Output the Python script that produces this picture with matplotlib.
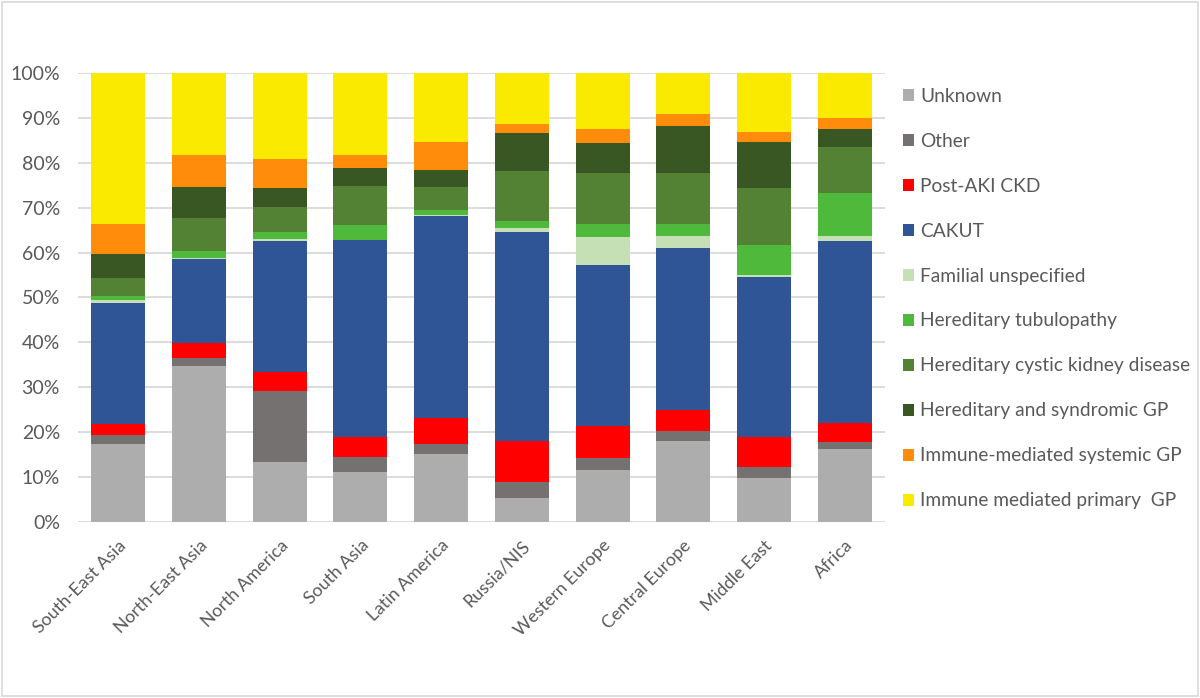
import matplotlib
matplotlib.use('Agg')
import matplotlib.pyplot as plt
import numpy as np
from matplotlib.patches import Rectangle

plt.rcParams['font.family'] = ['Lato', 'DejaVu Sans']

# Данные
regions = ['South-East Asia', 'North-East Asia', 'North America', 'South Asia', 'Latin America',
           'Russia/NIS', 'Western Europe', 'Central Europe', 'Middle East', 'Africa']

unknown = [17.4, 34.7, 13.3, 11.1, 15.1, 5.3, 11.6, 18.0, 9.7, 16.2]
other = [1.9, 1.8, 15.8, 3.4, 2.3, 3.5, 2.7, 2.3, 2.5, 1.7]
post_aki = [2.6, 3.4, 4.2, 4.4, 5.8, 9.2, 7.0, 4.6, 6.7, 4.1]
cakut = [26.9, 18.7, 29.3, 43.8, 45.0, 46.5, 35.9, 36.2, 35.7, 40.5]
familial = [0.6, 0.3, 0.4, 0.1, 0.1, 0.9, 6.3, 2.6, 0.3, 1.2]
tubulopathy = [0.9, 1.5, 1.5, 3.3, 1.1, 1.7, 2.8, 2.7, 6.8, 9.5]
cystic = [4.0, 7.2, 5.6, 8.7, 5.2, 11.1, 11.4, 11.4, 12.6, 10.4]
syndromic = [5.4, 7.1, 4.3, 4.0, 3.9, 8.4, 6.8, 10.4, 10.4, 3.9]
systemic = [6.7, 7.1, 6.4, 2.9, 6.1, 2.0, 3.0, 2.7, 2.2, 2.5]
primary = [33.6, 18.2, 19.2, 18.3, 15.4, 11.4, 12.5, 9.1, 13.1, 10.0]

series = [
    ('Unknown', unknown, '#ADADAD'),
    ('Other', other, '#767171'),
    ('Post-AKI CKD', post_aki, '#FF0000'),
    ('CAKUT', cakut, '#2F5597'),
    ('Familial unspecified', familial, '#C5E0B4'),
    ('Hereditary tubulopathy', tubulopathy, '#4EB93B'),
    ('Hereditary cystic kidney disease', cystic, '#548235'),
    ('Hereditary and syndromic GP', syndromic, '#385723'),
    ('Immune-mediated systemic GP', systemic, '#FF8C0A'),
    ('Immune mediated primary  GP', primary, '#F9EA00'),
]

# Нормировка до 100%
totals = np.sum([np.array(s[1]) for s in series], axis=0)

fig = plt.figure(figsize=(12, 6.98), dpi=100)
ax = fig.add_axes([78 / 1200, 1 - 522 / 698, (885 - 78) / 1200, (522 - 73) / 698])

x = np.arange(len(regions))
bottom = np.zeros(len(regions))
handles = []
for name, vals, color in series:
    v = np.array(vals) / totals
    b = ax.bar(x, v, 0.67, bottom=bottom, color=color, label=name, zorder=3)
    handles.append(b)
    bottom += v

ax.set_xlim(-0.5, len(regions) - 0.5)
ax.set_ylim(0, 1)
ax.set_yticks(np.arange(0, 1.01, 0.1))
ax.set_yticklabels([f'{int(round(t * 100))}%' for t in np.arange(0, 1.01, 0.1)])
ax.set_xticks(x)
ax.set_xticklabels(regions, rotation=45, ha='right', rotation_mode='anchor')
ax.tick_params(axis='y', length=0, pad=13, labelsize=14, labelcolor='#595959')
ax.tick_params(axis='x', length=0, pad=11, labelsize=12.8, labelcolor='#595959')
ax.grid(axis='y', color='#D9D9D9', linewidth=1.3, zorder=0)
for s in ax.spines.values():
    s.set_visible(False)

fig.legend(handles=handles, loc='center left', bbox_to_anchor=(903 / 1200, 1 - 298.5 / 698),
           frameon=False, fontsize=13.8, labelcolor='#595959', handlelength=0.6, handleheight=0.6,
           handletextpad=0.3, labelspacing=1.46, borderpad=0, borderaxespad=0)

# Рамка вокруг всей диаграммы
fig.patches.append(Rectangle((0.002, 0.003), 0.996, 0.994, transform=fig.transFigure,
                             fill=False, edgecolor='#D9D9D9', linewidth=1.2))

fig.savefig('out.png', dpi=100, facecolor='white')
